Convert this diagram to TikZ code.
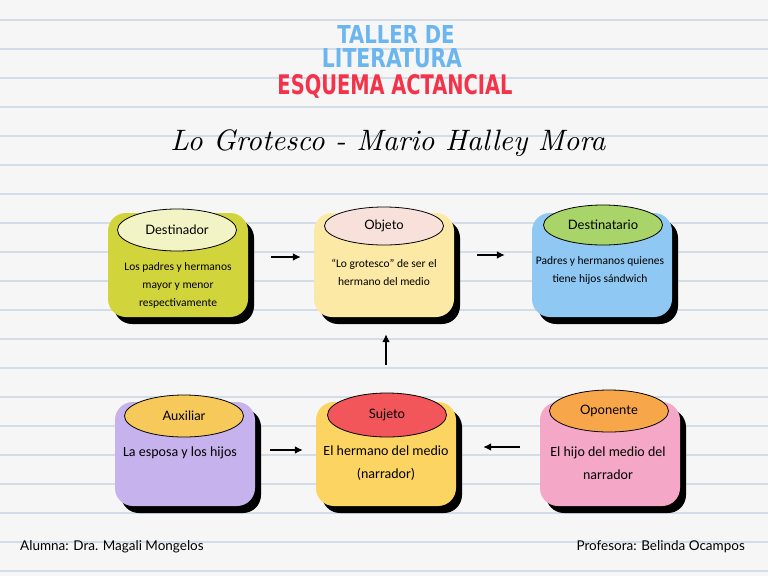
\documentclass[tikz,border=0pt]{standalone}
\usepackage{fontspec}
\usetikzlibrary{arrows.meta,shadows,shapes.geometric}
\newfontfamily\titlefont{DejaVu Sans Condensed Bold}
\newfontfamily\bodyfont{Carlito}
\newfontfamily\handfont{Lato}
\definecolor{paper}{HTML}{F6F6F6}
\definecolor{rule}{HTML}{D3DDE7}
\definecolor{titleblue}{HTML}{6CB6F0}
\definecolor{titlered}{HTML}{F2334A}
\definecolor{olive}{HTML}{D2D43C}
\definecolor{paleolive}{HTML}{F2F4C6}
\definecolor{cream}{HTML}{FDE9A6}
\definecolor{blush}{HTML}{F8E1DA}
\definecolor{sky}{HTML}{8FC8F2}
\definecolor{leaf}{HTML}{A8D46A}
\definecolor{lavender}{HTML}{C6B2EC}
\definecolor{mustard}{HTML}{F7C95A}
\definecolor{gold}{HTML}{FCD462}
\definecolor{coral}{HTML}{F2555A}
\definecolor{pink}{HTML}{F5A7C8}
\definecolor{tangerine}{HTML}{F8A64A}
\tikzset{
  actbox/.style={rounded corners=18pt, minimum width=140pt, minimum height=104pt, inner sep=0pt,
    drop shadow={shadow xshift=6pt, shadow yshift=-7pt, fill=black, opacity=1}},
  tag/.style={ellipse, draw, line width=0.8pt, minimum width=119pt, minimum height=42pt, inner sep=0pt,
    font=\handfont\fontsize{13}{15}\selectfont},
  txt/.style={align=center, inner sep=0pt, font=\bodyfont\fontsize{11.5}{18}\selectfont},
  bigtxt/.style={align=center, inner sep=0pt, font=\bodyfont\fontsize{14}{23}\selectfont},
  flow/.style={-{Latex[length=8pt,width=8pt]}, line width=2.2pt},
  foot/.style={inner sep=0pt, font=\handfont\fontsize{13.5}{15}\selectfont}
}
\begin{document}
\begin{tikzpicture}[x=1pt,y=-1pt]
\useasboundingbox (0,0) rectangle (768,576);
\fill[paper] (0,0) rectangle (768,576);
\foreach \k in {0,...,19}
  \draw[rule, line width=1.2pt] (0,{20+29*\k}) -- (768,{20+29*\k});

% titulos
\node[inner sep=0pt] (taller) at (396,34) {\resizebox{117pt}{18pt}{\titlefont\color{titleblue}TALLER DE}};
\node[inner sep=0pt] (literatura) at (392,58) {\resizebox{140pt}{19pt}{\titlefont\color{titleblue}LITERATURA}};
\node[inner sep=0pt] (esquema) at (395,86) {\resizebox{235pt}{20pt}{\titlefont\color{titlered}ESQUEMA ACTANCIAL}};
\node[inner sep=0pt] (obra) at (388,143) {\resizebox{435pt}{!}{\itshape Lo Grotesco - Mario Halley Mora}};

% cajas
\node[actbox, fill=olive] (destinador) at (178,265) {};
\node[actbox, fill=cream] (objeto) at (384,265) {};
\node[actbox, fill=sky] (destinatario) at (602,265) {};
\node[actbox, fill=lavender] (auxiliar) at (185,454) {};
\node[actbox, fill=gold] (sujeto) at (386,454) {};
\node[actbox, fill=pink] (oponente) at (610,454) {};

\node[tag, fill=paleolive] (destinador-tag) at (177,230) {Destinador};
\node[tag, fill=blush, minimum height=38pt] (objeto-tag) at (384,226) {Objeto};
\node[tag, fill=leaf, minimum height=40pt] (destinatario-tag) at (603,225) {Destinatario};
\node[tag, fill=mustard] (auxiliar-tag) at (184,416) {Auxiliar};
\node[tag, fill=coral, minimum height=44pt] (sujeto-tag) at (387,415) {Sujeto};
\node[tag, fill=tangerine] (oponente-tag) at (609,411) {Oponente};

\node[txt] (destinador-txt) at (178,285) {Los padres y hermanos\\mayor y menor\\respectivamente};
\node[txt] (objeto-txt) at (384,272) {“Lo grotesco” de ser el\\hermano del medio};
\node[txt] (destinatario-txt) at (600,270) {Padres y hermanos quienes\\tiene hijos sándwich};
\node[bigtxt] (auxiliar-txt) at (180,453) {La esposa y los hijos};
\node[bigtxt] (sujeto-txt) at (386,463) {El hermano del medio\\(narrador)};
\node[bigtxt] (oponente-txt) at (608,463) {El hijo del medio del\\narrador};

% flechas
\draw[flow, shorten <=23pt, shorten >=13pt] ([yshift=8pt]destinador.east) -- ([yshift=8pt]objeto.west);
\draw[flow, shorten <=23pt, shorten >=27pt] ([yshift=10pt]objeto.east) -- ([yshift=10pt]destinatario.west);
\draw[flow, shorten <=37pt, shorten >=17pt] (sujeto.north) -- (sujeto.north |- objeto.south);
\draw[flow, shorten <=15pt, shorten >=13pt] ([yshift=4pt]auxiliar.east) -- ([yshift=4pt]sujeto.west);
\draw[flow, shorten <=20pt, shorten >=27pt] ([yshift=7pt]oponente.west) -- ([yshift=7pt]sujeto.east);

\node[foot, anchor=west] (alumna) at (20,547) {Alumna: Dra. Magali Mongelos};
\node[foot, anchor=east] (profesora) at (745,547) {Profesora: Belinda Ocampos};
\end{tikzpicture}
\end{document}
